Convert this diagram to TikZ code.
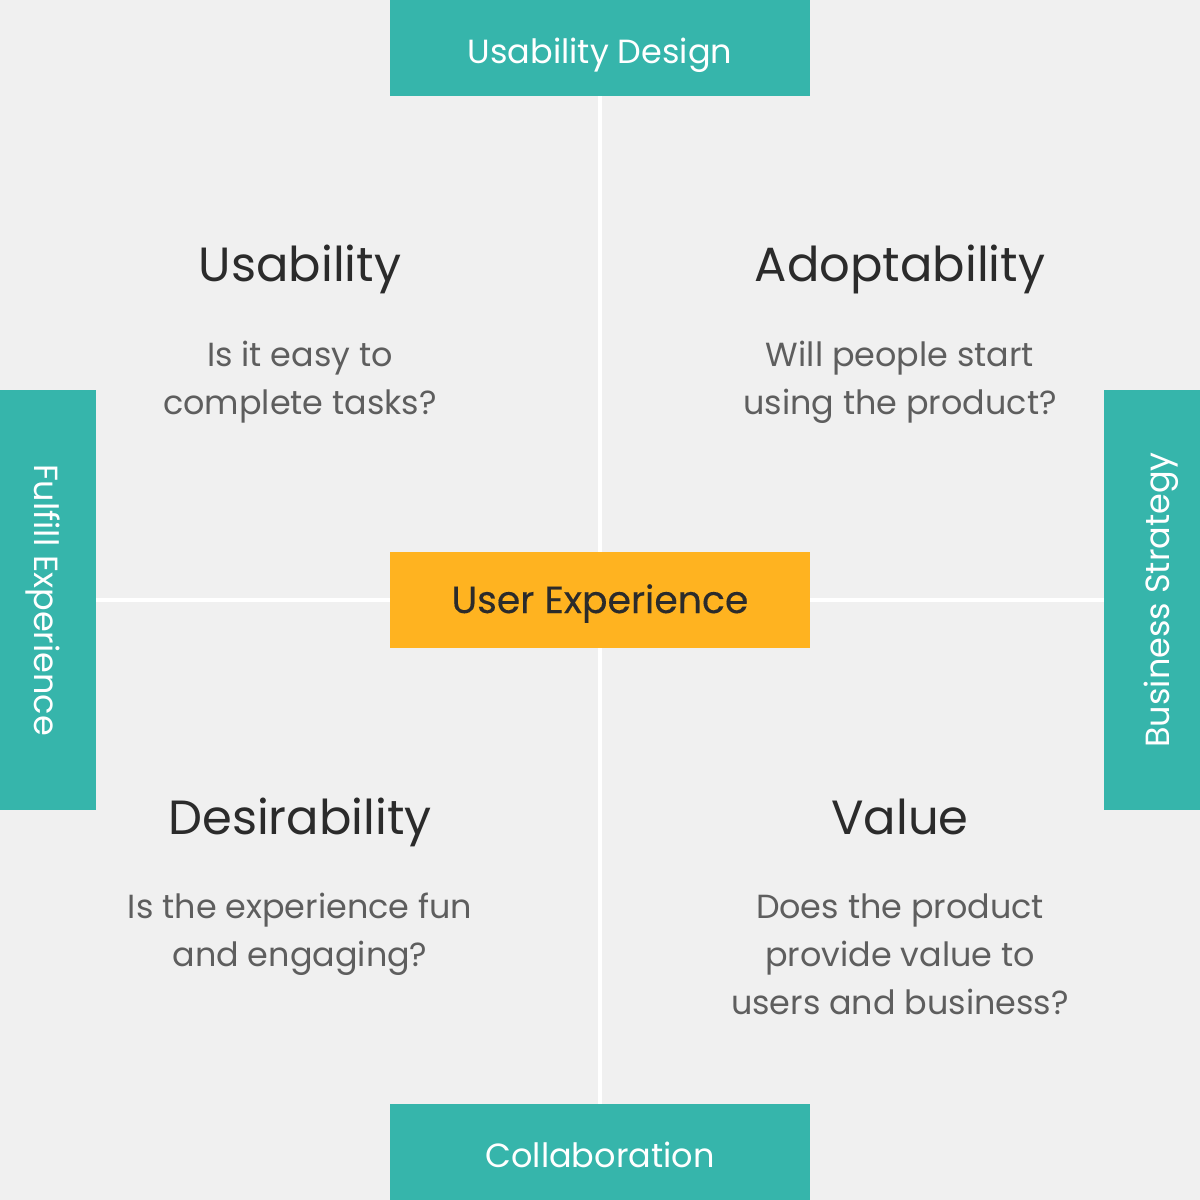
\documentclass[tikz,border=0pt]{standalone}
\usepackage{fontspec}
\setmainfont{Poppins}
\usetikzlibrary{positioning}
\definecolor{teal}{HTML}{36B5AB}
\definecolor{amber}{HTML}{FFB320}
\definecolor{paper}{HTML}{F0F0F0}
\definecolor{ink}{HTML}{2B2B2B}
\definecolor{mute}{HTML}{5E5E5E}
\tikzset{
  side/.style={fill=teal, text=white, inner sep=0pt, minimum width=420pt, minimum height=96pt, text height=31pt, text depth=0pt, font=\fontsize{33.5}{40}\selectfont},
  core/.style={fill=amber, text=ink, inner sep=0pt, minimum width=420pt, minimum height=96pt, text height=26pt, text depth=0pt, font=\fontsize{37.8}{44}\selectfont\addfontfeatures{FakeBold=0.3}},
  title/.style={text=ink, anchor=base, font=\fontsize{48}{56}\selectfont},
  ask/.style={text=mute, align=center, anchor=north, font=\fontsize{33.4}{48}\selectfont},
  axis/.style={draw=white, line width=4pt}
}

\begin{document}
\begin{tikzpicture}[x=1pt, y=-1pt]
    \fill[paper] (0,0) rectangle (1200,1200);
    \useasboundingbox (0,0) rectangle (1200,1200);
    % boxes
    \node[core] (ux) at (600,600) {User Experience};
    \node[side] (top) at (600,48) {Usability Design};
    \node[side] (bot) at (600,1152) {Collaboration};
    \node[side, rotate=-90, text height=27pt] (lft) at (48,600) {Fulfill Experience};
    \node[side, rotate=90, text height=34pt] (rgt) at (1152,600) {Business Strategy};
    \draw[axis] (top) -- (ux) (ux) -- (bot);
    \draw[axis] (lft) -- (ux) (ux) -- (rgt);
    % quadrants
    \node[title] (usab) at (300,281) {Usability};
    \node[title] (adop) at (900,281) {Adoptability};
    \node[title] (desi) at (300,834) {Desirability};
    \node[title] (valu) at (900,834) {Value};
    \node[ask] (usabq) at (300,338) {Is it easy to\\complete tasks?};
    \node[ask] (adopq) at (900,338) {Will people start\\using the product?};
    \node[ask] (desiq) at (300,889) {Is the experience fun\\and engaging?};
    \node[ask] (valuq) at (900,890) {Does the product\\provide value to\\users and business?};
\end{tikzpicture}
\end{document}
